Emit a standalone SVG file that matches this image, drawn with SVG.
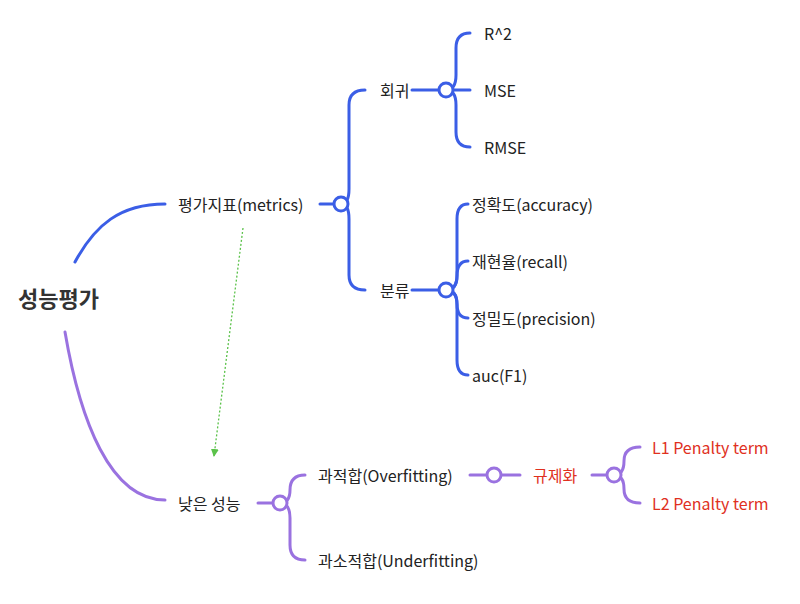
<svg xmlns="http://www.w3.org/2000/svg" width="800" height="604" viewBox="0 0 800 604">
<style>
text{font-family:"Noto Sans CJK KR","Noto Sans",sans-serif;font-size:16px;fill:#222;dominant-baseline:central}
.b{fill:none;stroke:#3b5ee6;stroke-width:3;stroke-linecap:round}
.p{fill:none;stroke:#9a72e0;stroke-width:3;stroke-linecap:round}
.bc{fill:#fff;stroke:#3b5ee6;stroke-width:3}
.pc{fill:#fff;stroke:#9a72e0;stroke-width:3}
.r{fill:#e0301e}
</style>
<defs><marker id="ga" markerWidth="8" markerHeight="8" refX="7" refY="4" orient="auto" markerUnits="userSpaceOnUse"><path d="M0,0 L8,4 L0,8 Z" fill="#5bc24a"/></marker></defs>
<rect width="800" height="604" fill="#fff"/>
<g id="connectors">
<path class="b" d="M75,262 C95,225 120,204 165,204"/>
<path class="p" d="M65,332 C80,420 110,500 165,500"/>
<path class="b" d="M320,204 H341"/>
<path class="b" d="M341,204 Q349,204 349,189 V105 Q349,90 365,90"/>
<path class="b" d="M341,204 Q349,204 349,219 V275 Q349,290 365,290"/>
<path class="b" d="M412,90 H446"/>
<path class="b" d="M446,90 Q456,90 456,75 V48 Q456,33 470,33"/>
<path class="b" d="M446,90 H470"/>
<path class="b" d="M446,90 Q456,90 456,105 V132 Q456,147 470,147"/>
<path class="b" d="M412,290 H446"/>
<path class="b" d="M446,290 Q457,290 457,275 V219 Q457,204 468,204"/>
<path class="b" d="M446,290 Q457,290 457,276 Q457,261 468,261"/>
<path class="b" d="M446,290 Q457,290 457,304 Q457,318 468,318"/>
<path class="b" d="M446,290 Q457,290 457,305 V360 Q457,375 468,375"/>
<path class="p" d="M258,503 H280"/>
<path class="p" d="M280,503 Q290,503 290,490 Q290,475 305,475"/>
<path class="p" d="M280,503 Q290,503 290,518 V545 Q290,560 305,560"/>
<path class="p" d="M470,475 H520"/>
<path class="p" d="M592,475 H614"/>
<path class="p" d="M614,475 Q624,475 624,461 Q624,447 640,447"/>
<path class="p" d="M614,475 Q624,475 624,489 Q624,503 640,503"/>
<path d="M243,228 L214,456" fill="none" stroke="#5bc24a" stroke-width="1.3" stroke-dasharray="2,2" marker-end="url(#ga)"/>
</g>
<g id="n-circles">
<circle class="bc" cx="341" cy="204" r="7"/>
<circle class="bc" cx="446" cy="90" r="7"/>
<circle class="bc" cx="446" cy="290" r="7"/>
<circle class="pc" cx="280" cy="503" r="7"/>
<circle class="pc" cx="494" cy="475" r="7"/>
<circle class="pc" cx="614" cy="475" r="7"/>
</g>
<g id="root"><text x="18" y="297" style="font-size:22px;font-weight:bold;fill:#333">성능평가</text></g>
<g id="metrics"><text x="178" y="204">평가지표(metrics)</text></g>
<g id="reg"><text x="380" y="90">회귀</text></g>
<g id="r2"><text x="484" y="33">R^2</text></g>
<g id="mse"><text x="484" y="90">MSE</text></g>
<g id="rmse"><text x="484" y="147">RMSE</text></g>
<g id="cls"><text x="380" y="290">분류</text></g>
<g id="acc"><text x="472" y="204">정확도(accuracy)</text></g>
<g id="rec"><text x="472" y="261">재현율(recall)</text></g>
<g id="prec"><text x="472" y="318">정밀도(precision)</text></g>
<g id="auc"><text x="472" y="375">auc(F1)</text></g>
<g id="low"><text x="178" y="503">낮은 성능</text></g>
<g id="over"><text x="318" y="475">과적합(Overfitting)</text></g>
<g id="under"><text x="318" y="560">과소적합(Underfitting)</text></g>
<g id="regz"><text class="r" x="533" y="475">규제화</text></g>
<g id="l1"><text class="r" x="652" y="447">L1 Penalty term</text></g>
<g id="l2"><text class="r" x="652" y="503">L2 Penalty term</text></g>
</svg>
